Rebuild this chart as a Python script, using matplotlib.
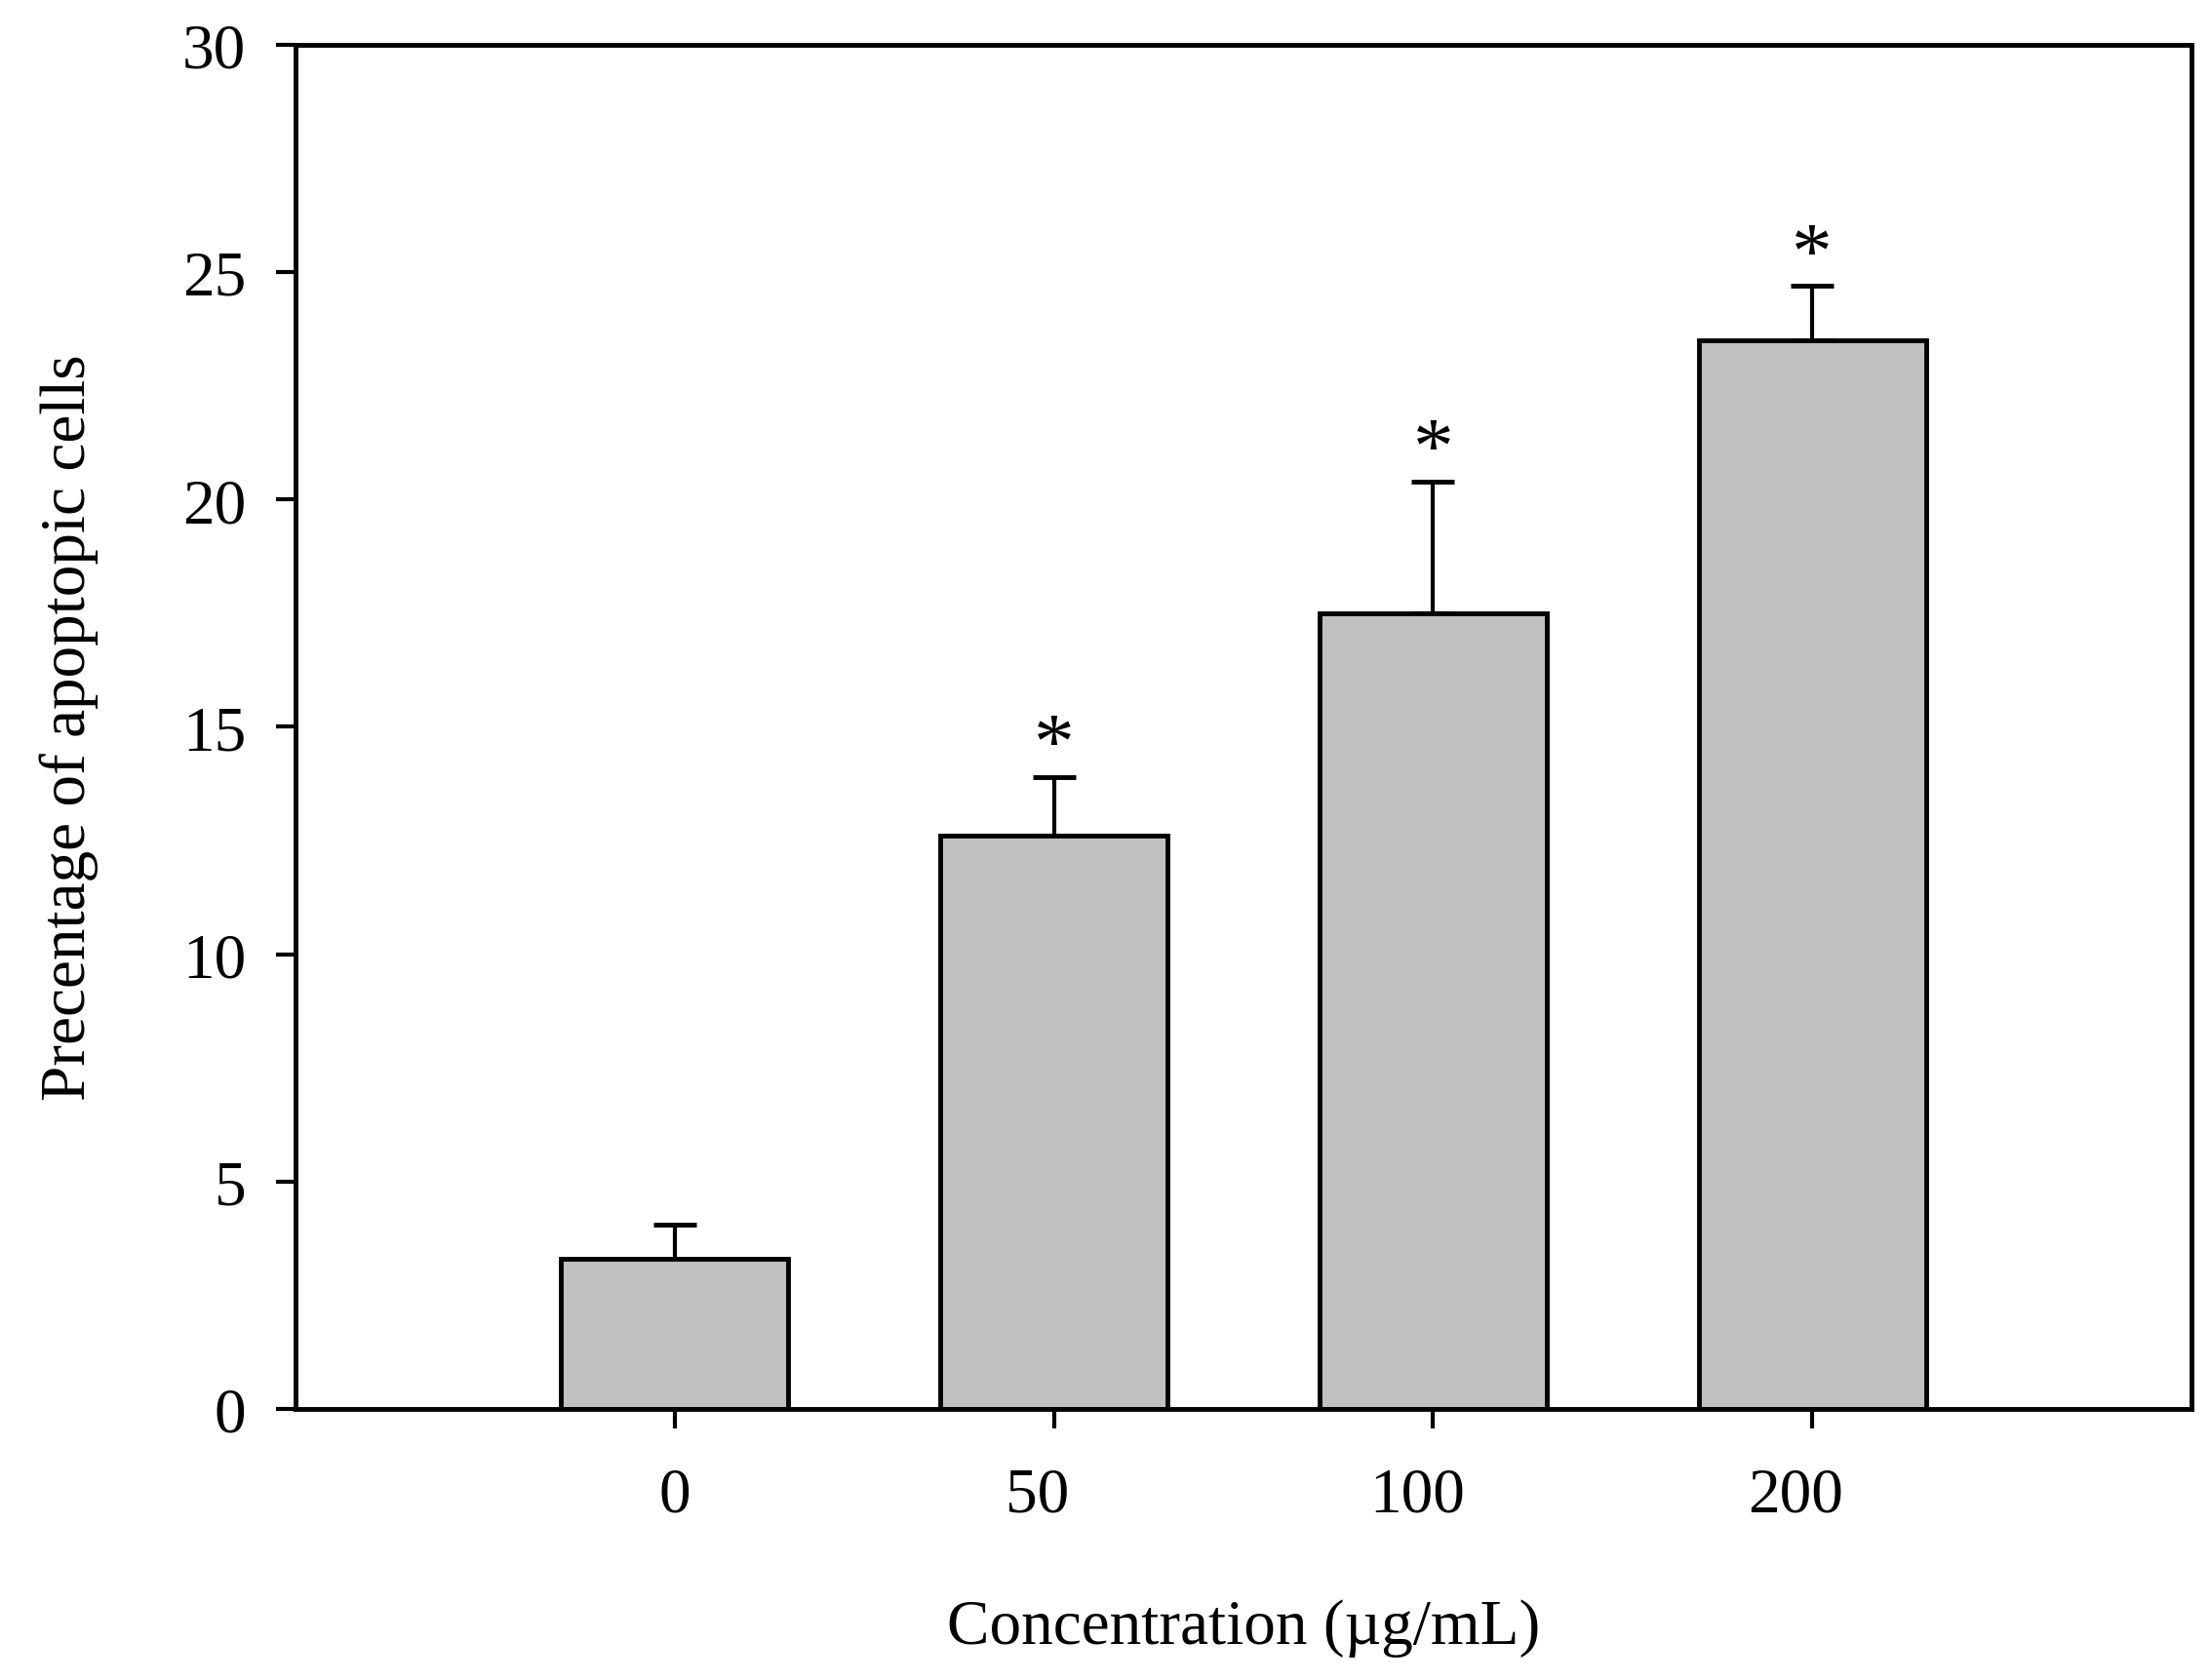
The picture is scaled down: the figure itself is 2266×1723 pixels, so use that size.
import numpy as np
import matplotlib
matplotlib.use('Agg')
import matplotlib.pyplot as plt
import matplotlib.transforms as mtransforms

# datos
conc = ['0', '50', '100', '200']
apop = [3.3, 12.6, 17.5, 23.5]
err = [0.75, 1.3, 2.9, 1.2]
marks = ['', '*', '*', '*']

plt.rcParams['font.family'] = ['Liberation Serif', 'DejaVu Serif']
plt.rcParams['font.size'] = 47

fig = plt.figure(figsize=(22.66, 17.24), dpi=100)
ax = fig.add_axes([0.1337, 0.1613, 0.9916 - 0.1337, 0.9727 - 0.1613])

x = np.arange(1, len(conc) + 1)
ax.bar(x, apop, width=0.6, color='#c0c0c0', edgecolor='black', linewidth=3.5,
       zorder=2)
ax.errorbar(x, apop, yerr=[np.zeros(len(err)), err], fmt='none',
            ecolor='black', elinewidth=3, capsize=15.5, capthick=3.5,
            zorder=1)

for xi, yi, e, m in zip(x, apop, err, marks):
    if m:
        ax.annotate(m, (xi, yi + e), xytext=(0, -6), textcoords='offset points',
                    ha='center', va='bottom', fontsize=60)

ax.set_xlim(0, 5)
ax.set_ylim(0, 30)
ax.set_xticks(x)
ax.set_xticklabels(conc)
ax.set_yticks(np.arange(0, 31, 5))

for s in ax.spines.values():
    s.set_linewidth(3.5)
ax.tick_params(axis='both', direction='out', length=14.5, width=3)
ax.tick_params(axis='x', pad=28)
ax.tick_params(axis='y', pad=22)

# etiquetas del eje x un poco corridas a la izquierda como en el original
off = mtransforms.ScaledTranslation(-12 / 72, 0, fig.dpi_scale_trans)
for lab in ax.get_xticklabels()[1:]:
    lab.set_transform(lab.get_transform() + off)

ax.set_xlabel('Concentration (\u00b5g/mL)', labelpad=55)
ax.set_ylabel('Precentage of apoptopic cells', labelpad=62)

fig.savefig('out.png', dpi=100)
